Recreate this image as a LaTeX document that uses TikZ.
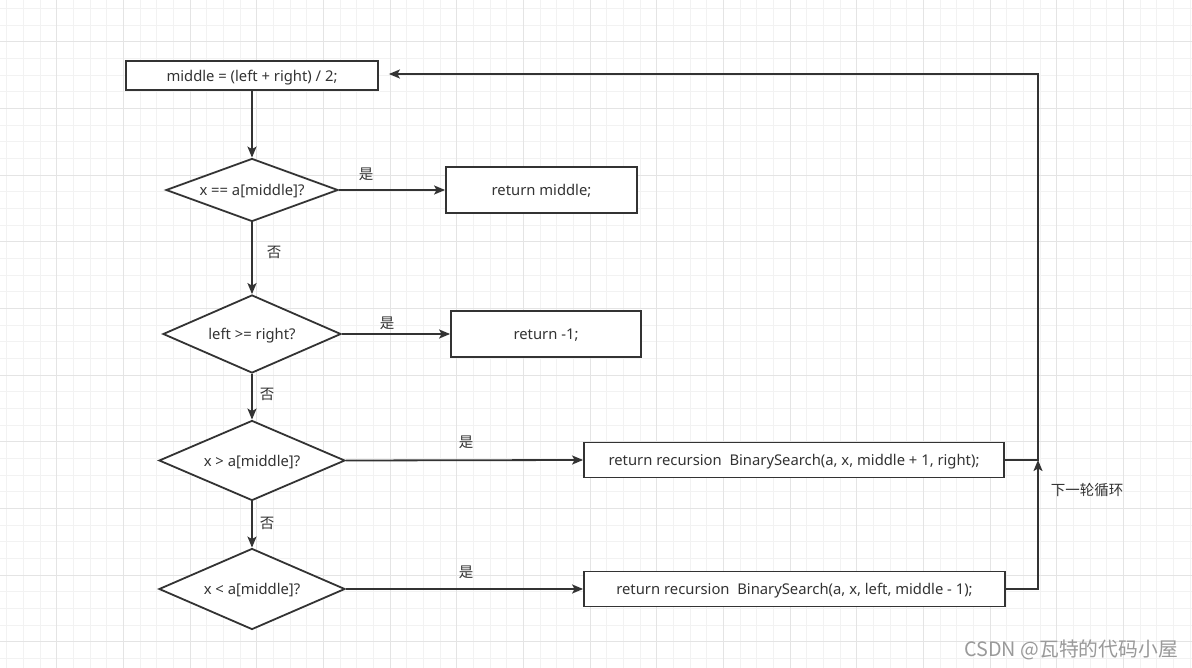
\documentclass[tikz,border=0pt]{standalone}
\usepackage{fontspec}
\setmainfont{Noto Sans}
\newfontfamily\cjk{Noto Sans CJK SC}
\usetikzlibrary{shapes.geometric,arrows.meta}
\definecolor{ink}{HTML}{333333}
\definecolor{gminor}{HTML}{F2F2F2}
\definecolor{gmajor}{HTML}{E4E4E4}
\definecolor{wm}{HTML}{9A9A9A}
\tikzset{
  procbox/.style={draw=ink, line width=1.8pt, fill=white, rectangle, inner sep=0pt, text=ink, text depth=0pt, font=\fontsize{14.8}{17}\selectfont},
  decide/.style={draw=ink, line width=1.8pt, fill=white, diamond, shape aspect=3, inner sep=0pt, text=ink, text depth=0pt, font=\fontsize{14.8}{17}\selectfont},
  flow/.style={draw=ink, line width=1.8pt, -{Stealth[length=11pt,width=9pt,inset=2.5pt]}},
  plain/.style={draw=ink, line width=1.8pt},
  lbl/.style={text=ink, font=\cjk\fontsize{14.5}{16}\selectfont, inner sep=0pt},
}
\begin{document}
\begin{tikzpicture}[x=1pt,y=-1pt]
\useasboundingbox (0,0) rectangle (1192,668);
\fill[white] (0,0) rectangle (1192,668);
% grid
\foreach \i in {0,...,71} {
  \draw[gminor, line width=0.8pt] ({6.667+16.667*\i},0) -- ({6.667+16.667*\i},668);
}
\foreach \i in {0,...,39} {
  \draw[gminor, line width=0.8pt] (0,{8.333+16.667*\i}) -- (1192,{8.333+16.667*\i});
}
\foreach \i in {0,...,17} {
  \draw[gmajor, line width=0.9pt] ({56.667+66.667*(\i-1)},0) -- ({56.667+66.667*(\i-1)},668);
}
\foreach \i in {0,...,10} {
  \draw[gmajor, line width=0.9pt] (0,{41.667+66.667*(\i-1)}) -- (1192,{41.667+66.667*(\i-1)});
}
% nodes
\node[procbox, minimum width=252pt, minimum height=29pt] (b1) at (252,75.5) {middle = (left + right) / 2;};
\node[decide, minimum width=172pt, minimum height=63pt] (d1) at (252,190) {x == a[middle]?};
\node[procbox, minimum width=191pt, minimum height=46pt] (r1) at (541.5,190) {return middle;};
\node[decide, minimum width=178pt, minimum height=78pt] (d2) at (252,334) {left >= right?};
\node[procbox, minimum width=190pt, minimum height=46pt] (r2) at (546,334) {return -1;};
\node[decide, minimum width=186pt, minimum height=80pt] (d3) at (252,460.5) {x > a[middle]?};
\node[procbox, minimum width=420pt, minimum height=35pt] (r3) at (794,460) {return recursion\ \ BinarySearch(a, x, middle + 1, right);};
\node[decide, minimum width=186pt, minimum height=81pt] (d4) at (252,589) {x < a[middle]?};
\node[procbox, minimum width=421pt, minimum height=35pt] (r4) at (794.5,589) {return recursion\ \ BinarySearch(a, x, left, middle - 1);};
\coordinate (lp) at (1038,74);
\coordinate (j) at (1038,460);
% connectors
\draw[flow] (b1.south) -- (d1.north);
\draw[flow] (d1.east) -- (r1.west);
\draw[flow] (d1.south) -- (d2.north);
\draw[flow] (d2.east) -- (r2.west);
\draw[flow] (d2.south) -- (d3.north);
\draw[flow] (d3.east) -- (r3.west);
\draw[flow] (d3.south) -- (d4.north);
\draw[flow] (d4.east) -- (r4.west);
\draw[flow, shorten >=10pt] (r3.east) -- (j) -- (lp) -- (b1.east |- lp);
\draw[flow] (r4.east) -| (j);
% labels
\node[lbl] (y1) at (366,174) {是};
\node[lbl] (n1) at (274,252) {否};
\node[lbl] (y2) at (387,323) {是};
\node[lbl] (n2) at (267,394) {否};
\node[lbl] (y3) at (466,442) {是};
\node[lbl] (n3) at (267,523) {否};
\node[lbl] (y4) at (466,572) {是};
\node[lbl] (loopl) at (1087,490) {下一轮循环};
\node[text=wm, font=\cjk\fontsize{19.8}{22}\selectfont, inner sep=0pt, anchor=east] (wmk) at (1178,650) {CSDN @瓦特的代码小屋};
\end{tikzpicture}
\end{document}
